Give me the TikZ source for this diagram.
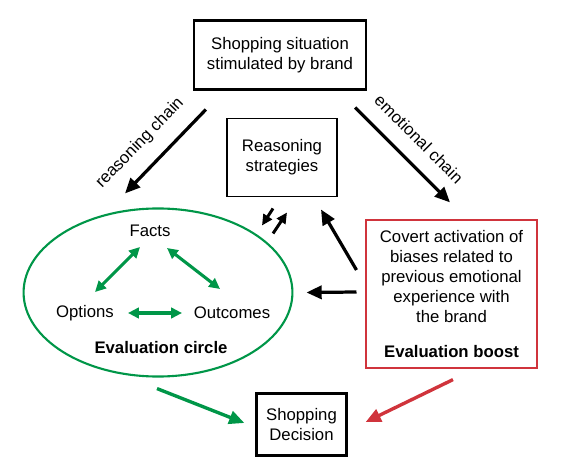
\documentclass[tikz,border=0pt]{standalone}
\usepackage{fontspec}
\setmainfont{Liberation Sans}
\usetikzlibrary{arrows.meta,shapes.geometric}
\definecolor{evalgreen}{RGB}{0,150,72}
\definecolor{boostred}{RGB}{208,52,60}
\tikzset{
    box/.style={draw, line width=1.6pt, align=center, inner sep=0pt},
    label/.style={align=center, inner sep=1pt},
    blackarrow/.style={line width=2.3pt, -{Triangle[length=3.8mm, width=3.3mm]}},
    smallarrow/.style={line width=2.1pt, -{Triangle[length=2.7mm, width=2.5mm]}},
    greenarrow/.style={evalgreen, line width=2.2pt, {Triangle[length=2.7mm, width=2.6mm]}-{Triangle[length=2.7mm, width=2.6mm]}},
    leadarrow/.style={line width=2.4pt, -{Triangle[length=3.8mm, width=3.3mm]}}
}
\begin{document}
\begin{tikzpicture}[x=0.025cm, y=-0.025cm, font=\fontsize{11.9pt}{14.2pt}\selectfont]
        \useasboundingbox (0,0) rectangle (566,472);
        % boxes
        \node [box, minimum width=4.3cm, minimum height=1.72cm] (situation) at (280,55) {Shopping situation\\stimulated by brand};
        \node [box, line width=1.4pt, minimum width=2.75cm, minimum height=1.95cm] (strategies) at (282,157.5) {Reasoning\\strategies};
        \node [box, draw=boostred, line width=1.4pt, minimum width=4.25cm, minimum height=3.68cm] (boost) at (451.5,294) {Covert activation of\\biases related to\\previous emotional\\experience with\\the brand\\[10.5pt]\bfseries Evaluation boost};
        \node [box, minimum width=2.25cm, minimum height=1.55cm] (decision) at (301.5,424.5) {Shopping\\Decision};
        % evaluation circle
        \node [draw=evalgreen, line width=1.5pt, ellipse, minimum width=6.72cm, minimum height=4.2cm] (evalcircle) at (158,292.5) {};
        \node [label] (facts) at (150,231) {Facts};
        \node [label] (options) at (85,313) {Options};
        \node [label] (outcomes) at (232,313) {Outcomes};
        \node [label, font=\fontsize{11.9pt}{14.2pt}\selectfont\bfseries] (evallabel) at (161,348) {Evaluation circle};
        \draw [greenarrow] ([shift={(-10,16)}]facts.center) -- ([shift={(10,-21)}]options.center);
        \draw [greenarrow] ([shift={(17,17)}]facts.center) -- ([shift={(-12,-24)}]outcomes.center);
        \draw [greenarrow] ([shift={(43,0)}]options.center) -- ([shift={(-50,0)}]outcomes.center);
        % chains
        \node [label, rotate=46] (reasonlabel) at (140,143) {reasoning chain};
        \node [label, rotate=-45] (emotionlabel) at (419,139) {emotional chain};
        \draw [blackarrow] ([shift={(13,19)}]situation.south west) -- ([shift={(-33,-14)}]evalcircle.north);
        \draw [blackarrow] ([shift={(-12,17)}]situation.south east) -- ([shift={(-1.5,-17)}]boost.north);
        \draw [blackarrow] ([shift={(-9,-24)}]boost.west) -- ([shift={(39,12)}]strategies.south);
        \draw [blackarrow] ([shift={(-9,-2)}]boost.west) -- ([shift={(13,0)}]evalcircle.east);
        \draw [smallarrow] ([shift={(-9,11)}]strategies.south) -- ([shift={(-20,28)}]strategies.south);
        \draw [smallarrow] ([shift={(-9,36)}]strategies.south) -- ([shift={(5,15)}]strategies.south);
        % decision
        \draw [leadarrow, evalgreen] ([shift={(-1,11)}]evalcircle.south) -- ([shift={(-11,-1.5)}]decision.west);
        \draw [leadarrow, boostred] ([shift={(1.5,11)}]boost.south) -- ([shift={(18,-2.5)}]decision.east);
\end{tikzpicture}
\end{document}
